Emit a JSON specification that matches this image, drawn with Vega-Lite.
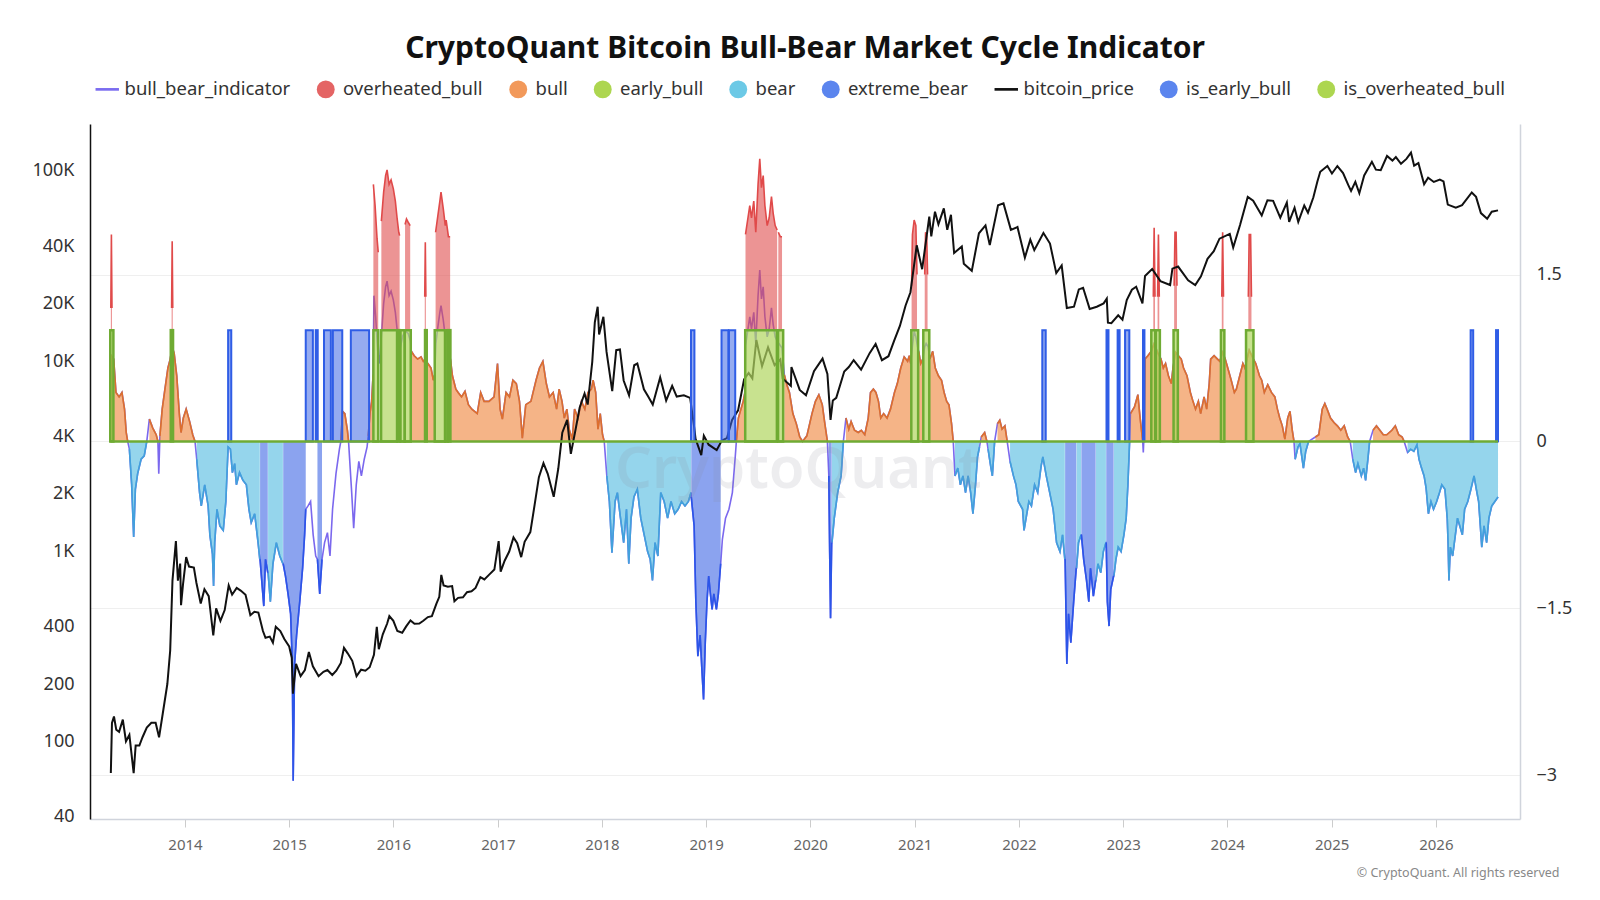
{
  "$schema": "https://vega.github.io/schema/vega-lite/v6.json",
  "width": 1430,
  "height": 695,
  "autosize": {"type": "none"},
  "padding": {"left": 90, "top": 124, "right": 80, "bottom": 81},
  "background": "white",
  "title": {
    "text": "CryptoQuant Bitcoin Bull-Bear Market Cycle Indicator",
    "font": "Noto Sans", "fontSize": 30, "fontWeight": "bold", "color": "#111111",
    "anchor": "middle", "offset": 16
  },
  "config": {"font": "Noto Sans", "view": {"stroke": null}},
  "datasets": {
    "price": [
      {"d":"2013-04-16","p":68},{"d":"2013-04-20","p":125},{"d":"2013-04-27","p":135},{"d":"2013-05-05","p":115},
      {"d":"2013-05-15","p":112},{"d":"2013-05-28","p":130},{"d":"2013-06-08","p":100},{"d":"2013-06-20","p":108},
      {"d":"2013-07-05","p":68},{"d":"2013-07-12","p":95},{"d":"2013-07-25","p":95},{"d":"2013-08-05","p":105},
      {"d":"2013-08-20","p":118},{"d":"2013-09-05","p":125},{"d":"2013-09-20","p":125},{"d":"2013-10-02","p":105},
      {"d":"2013-10-15","p":140},{"d":"2013-10-31","p":200},{"d":"2013-11-10","p":300},{"d":"2013-11-18","p":700},
      {"d":"2013-11-30","p":1130},{"d":"2013-12-07","p":700},{"d":"2013-12-15","p":860},{"d":"2013-12-18","p":520},
      {"d":"2013-12-25","p":670},{"d":"2014-01-05","p":930},{"d":"2014-01-15","p":830},{"d":"2014-02-01","p":820},
      {"d":"2014-02-10","p":680},{"d":"2014-02-25","p":530},{"d":"2014-03-10","p":630},{"d":"2014-03-25","p":580},
      {"d":"2014-04-10","p":360},{"d":"2014-04-20","p":500},{"d":"2014-05-05","p":430},{"d":"2014-05-20","p":490},
      {"d":"2014-06-03","p":660},{"d":"2014-06-15","p":590},{"d":"2014-07-01","p":640},{"d":"2014-07-15","p":620},
      {"d":"2014-08-01","p":590},{"d":"2014-08-18","p":460},{"d":"2014-09-01","p":480},{"d":"2014-09-15","p":475},
      {"d":"2014-10-01","p":380},{"d":"2014-10-10","p":350},{"d":"2014-10-25","p":355},{"d":"2014-11-05","p":330},
      {"d":"2014-11-15","p":400},{"d":"2014-12-01","p":380},{"d":"2014-12-15","p":345},{"d":"2015-01-01","p":315},
      {"d":"2015-01-10","p":275},{"d":"2015-01-14","p":178},{"d":"2015-01-25","p":255},{"d":"2015-02-10","p":220},
      {"d":"2015-02-25","p":237},{"d":"2015-03-11","p":295},{"d":"2015-03-25","p":248},{"d":"2015-04-14","p":220},
      {"d":"2015-05-01","p":232},{"d":"2015-05-15","p":237},{"d":"2015-06-01","p":223},{"d":"2015-06-15","p":235},
      {"d":"2015-07-01","p":258},{"d":"2015-07-12","p":310},{"d":"2015-07-25","p":290},{"d":"2015-08-10","p":265},
      {"d":"2015-08-25","p":220},{"d":"2015-09-10","p":238},{"d":"2015-09-25","p":235},{"d":"2015-10-10","p":245},
      {"d":"2015-10-25","p":285},{"d":"2015-11-04","p":400},{"d":"2015-11-11","p":305},{"d":"2015-11-25","p":365},
      {"d":"2015-12-10","p":415},{"d":"2015-12-18","p":455},{"d":"2016-01-01","p":430},{"d":"2016-01-15","p":380},
      {"d":"2016-02-01","p":372},{"d":"2016-02-15","p":402},{"d":"2016-03-01","p":432},{"d":"2016-03-15","p":415},
      {"d":"2016-04-01","p":416},{"d":"2016-04-15","p":430},{"d":"2016-05-01","p":450},{"d":"2016-05-15","p":455},
      {"d":"2016-05-31","p":530},{"d":"2016-06-10","p":575},{"d":"2016-06-17","p":750},{"d":"2016-06-25","p":660},
      {"d":"2016-07-10","p":650},{"d":"2016-07-25","p":655},{"d":"2016-08-02","p":545},{"d":"2016-08-15","p":568},
      {"d":"2016-09-01","p":572},{"d":"2016-09-15","p":608},{"d":"2016-10-01","p":615},{"d":"2016-10-15","p":640},
      {"d":"2016-11-01","p":730},{"d":"2016-11-15","p":710},{"d":"2016-12-01","p":750},{"d":"2016-12-20","p":800},
      {"d":"2017-01-04","p":1130},{"d":"2017-01-11","p":780},{"d":"2017-01-25","p":890},{"d":"2017-02-10","p":995},
      {"d":"2017-02-25","p":1180},{"d":"2017-03-10","p":1100},{"d":"2017-03-24","p":930},{"d":"2017-04-05","p":1120},
      {"d":"2017-04-25","p":1260},{"d":"2017-05-10","p":1750},{"d":"2017-05-25","p":2450},{"d":"2017-06-10","p":2900},
      {"d":"2017-06-25","p":2550},{"d":"2017-07-16","p":1930},{"d":"2017-08-01","p":2720},{"d":"2017-08-15","p":4200},
      {"d":"2017-09-01","p":4900},{"d":"2017-09-14","p":3250},{"d":"2017-10-01","p":4400},{"d":"2017-10-15","p":5700},
      {"d":"2017-11-01","p":6750},{"d":"2017-11-12","p":5900},{"d":"2017-11-28","p":9900},{"d":"2017-12-07","p":16000},
      {"d":"2017-12-17","p":19300},{"d":"2017-12-22","p":13800},{"d":"2018-01-06","p":17100},{"d":"2018-01-17","p":11200},
      {"d":"2018-02-06","p":6950},{"d":"2018-02-20","p":11400},{"d":"2018-03-05","p":11500},{"d":"2018-03-18","p":7900},
      {"d":"2018-04-06","p":6600},{"d":"2018-04-24","p":9500},{"d":"2018-05-05","p":9700},{"d":"2018-05-28","p":7100},
      {"d":"2018-06-12","p":6500},{"d":"2018-06-28","p":5900},{"d":"2018-07-24","p":8200},{"d":"2018-08-14","p":6200},
      {"d":"2018-09-04","p":7400},{"d":"2018-09-20","p":6500},{"d":"2018-10-15","p":6600},{"d":"2018-11-06","p":6400},
      {"d":"2018-11-20","p":4500},{"d":"2018-11-25","p":3900},{"d":"2018-12-15","p":3200},{"d":"2018-12-24","p":4050},
      {"d":"2019-01-10","p":3630},{"d":"2019-02-07","p":3400},{"d":"2019-02-25","p":3820},{"d":"2019-03-15","p":3930},
      {"d":"2019-04-02","p":4900},{"d":"2019-04-23","p":5500},{"d":"2019-05-14","p":8000},{"d":"2019-05-30","p":8650},
      {"d":"2019-06-12","p":8100},{"d":"2019-06-26","p":12900},{"d":"2019-07-16","p":9400},{"d":"2019-08-06","p":11800},
      {"d":"2019-08-29","p":9500},{"d":"2019-09-18","p":10200},{"d":"2019-09-26","p":8100},{"d":"2019-10-25","p":7400},
      {"d":"2019-10-27","p":9300},{"d":"2019-11-25","p":7050},{"d":"2019-12-17","p":6600},{"d":"2020-01-14","p":8850},
      {"d":"2020-02-13","p":10300},{"d":"2020-03-01","p":8550},{"d":"2020-03-12","p":4900},{"d":"2020-03-20","p":6200},
      {"d":"2020-04-01","p":6400},{"d":"2020-04-29","p":8800},{"d":"2020-05-15","p":9300},{"d":"2020-06-01","p":10100},
      {"d":"2020-06-27","p":9000},{"d":"2020-07-27","p":11000},{"d":"2020-08-17","p":12300},{"d":"2020-09-08","p":10100},
      {"d":"2020-10-01","p":10600},{"d":"2020-10-21","p":12800},{"d":"2020-11-10","p":15300},{"d":"2020-11-30","p":19600},
      {"d":"2020-12-17","p":23000},{"d":"2021-01-08","p":40600},{"d":"2021-01-27","p":30400},{"d":"2021-02-21","p":57500},
      {"d":"2021-02-28","p":45200},{"d":"2021-03-13","p":61000},{"d":"2021-03-25","p":52300},{"d":"2021-04-13","p":63500},
      {"d":"2021-04-25","p":49000},{"d":"2021-05-08","p":58800},{"d":"2021-05-19","p":37000},{"d":"2021-06-15","p":40000},
      {"d":"2021-06-22","p":32500},{"d":"2021-07-20","p":29800},{"d":"2021-08-14","p":47000},{"d":"2021-09-06","p":51700},
      {"d":"2021-09-21","p":40700},{"d":"2021-10-20","p":66000},{"d":"2021-11-08","p":67500},{"d":"2021-12-04","p":49000},
      {"d":"2021-12-27","p":50700},{"d":"2022-01-22","p":35000},{"d":"2022-02-10","p":43500},{"d":"2022-02-24","p":38300},
      {"d":"2022-03-28","p":47100},{"d":"2022-04-20","p":41500},{"d":"2022-05-12","p":29000},{"d":"2022-05-31","p":31800},
      {"d":"2022-06-18","p":19000},{"d":"2022-07-13","p":19300},{"d":"2022-07-30","p":23800},{"d":"2022-08-14","p":24300},
      {"d":"2022-09-06","p":18800},{"d":"2022-10-01","p":19300},{"d":"2022-10-25","p":20100},{"d":"2022-11-05","p":21300},
      {"d":"2022-11-09","p":15900},{"d":"2022-11-21","p":15800},{"d":"2022-12-15","p":17400},{"d":"2022-12-30","p":16500},
      {"d":"2023-01-14","p":20900},{"d":"2023-02-01","p":23700},{"d":"2023-02-16","p":24600},{"d":"2023-03-10","p":20100},
      {"d":"2023-03-19","p":28000},{"d":"2023-04-13","p":30500},{"d":"2023-05-12","p":26300},{"d":"2023-06-15","p":25100},
      {"d":"2023-06-23","p":30600},{"d":"2023-07-13","p":31400},{"d":"2023-08-17","p":26600},{"d":"2023-09-11","p":25100},
      {"d":"2023-10-01","p":27900},{"d":"2023-10-24","p":34500},{"d":"2023-11-15","p":37800},{"d":"2023-12-05","p":44000},
      {"d":"2024-01-10","p":46600},{"d":"2024-01-22","p":39500},{"d":"2024-02-15","p":51900},{"d":"2024-03-13","p":73000},
      {"d":"2024-04-01","p":69700},{"d":"2024-05-01","p":58300},{"d":"2024-05-21","p":70100},{"d":"2024-06-10","p":69600},
      {"d":"2024-07-05","p":56700},{"d":"2024-07-28","p":68200},{"d":"2024-08-05","p":54000},{"d":"2024-08-24","p":64000},
      {"d":"2024-09-06","p":53900},{"d":"2024-09-27","p":65800},{"d":"2024-10-10","p":60300},{"d":"2024-10-29","p":72700},
      {"d":"2024-11-12","p":88000},{"d":"2024-11-22","p":98900},{"d":"2024-12-17","p":106100},{"d":"2025-01-02","p":96900},
      {"d":"2025-01-21","p":106100},{"d":"2025-02-10","p":97400},{"d":"2025-02-28","p":84400},{"d":"2025-03-10","p":78500},
      {"d":"2025-03-25","p":87500},{"d":"2025-04-08","p":76300},{"d":"2025-04-25","p":94700},{"d":"2025-05-22","p":111700},
      {"d":"2025-06-05","p":101500},{"d":"2025-06-22","p":100900},{"d":"2025-07-14","p":119800},{"d":"2025-08-02","p":113300},
      {"d":"2025-08-14","p":118300},{"d":"2025-09-01","p":109000},{"d":"2025-09-20","p":115700},{"d":"2025-10-06","p":124700},
      {"d":"2025-10-17","p":106500},{"d":"2025-11-01","p":110000},{"d":"2025-11-21","p":85000},{"d":"2025-12-05","p":92000},
      {"d":"2025-12-25","p":87500},{"d":"2026-01-15","p":90000},{"d":"2026-01-28","p":88000},{"d":"2026-02-12","p":66500},
      {"d":"2026-03-12","p":64000},{"d":"2026-04-03","p":66000},{"d":"2026-05-07","p":77000},{"d":"2026-05-22","p":73000},
      {"d":"2026-06-08","p":60000},{"d":"2026-06-30","p":56000},{"d":"2026-07-16","p":61000},{"d":"2026-08-07","p":62000}
    ],
    "ind": [
      {"d":"2013-04-14","i":0.10,"s":"bull","g":1},{"d":"2013-04-18","i":0.77,"s":"bull","g":1},{"d":"2013-04-26","i":0.74,"s":"bull","g":1},
      {"d":"2013-05-04","i":0.44,"s":"bull","g":1},{"d":"2013-05-15","i":0.40,"s":"bull","g":1},{"d":"2013-05-25","i":0.44,"s":"bull","g":1},
      {"d":"2013-06-03","i":0.29,"s":"bull","g":1},{"d":"2013-06-09","i":0.08,"s":"bull","g":1},{"d":"2013-06-14","i":0.00,"s":"bull","g":1},
      {"d":"2013-06-20","i":-0.07,"s":"bear","g":2},{"d":"2013-06-28","i":-0.39,"s":"bear","g":2},{"d":"2013-07-05","i":-0.86,"s":"bear","g":2},
      {"d":"2013-07-11","i":-0.43,"s":"bear","g":2},{"d":"2013-07-19","i":-0.29,"s":"bear","g":2},{"d":"2013-07-31","i":-0.16,"s":"bear","g":2},
      {"d":"2013-08-11","i":-0.13,"s":"bear","g":2},{"d":"2013-08-20","i":0.00,"s":"bear","g":2},
      {"d":"2013-08-29","i":0.20,"s":"bull","g":3},{"d":"2013-09-10","i":0.12,"s":"bull","g":3},{"d":"2013-09-22","i":0.06,"s":"bull","g":3},
      {"d":"2013-09-28","i":0.00,"s":"bull","g":3},{"d":"2013-10-01","i":-0.29},
      {"d":"2013-10-05","i":0.05,"s":"bull","g":4},{"d":"2013-10-13","i":0.29,"s":"bull","g":4},{"d":"2013-10-21","i":0.44,"s":"bull","g":4},
      {"d":"2013-11-02","i":0.66,"s":"bull","g":4},{"d":"2013-11-10","i":0.74,"s":"bull","g":4},{"d":"2013-11-17","i":0.85,"s":"bull","g":4},
      {"d":"2013-11-24","i":0.79,"s":"bull","g":4},{"d":"2013-12-03","i":0.59,"s":"bull","g":4},{"d":"2013-12-12","i":0.25,"s":"bull","g":4},
      {"d":"2013-12-18","i":0.08,"s":"bull","g":4},{"d":"2013-12-26","i":0.21,"s":"bull","g":4},{"d":"2014-01-05","i":0.29,"s":"bull","g":4},
      {"d":"2014-01-17","i":0.18,"s":"bull","g":4},{"d":"2014-01-28","i":0.06,"s":"bull","g":4},{"d":"2014-02-05","i":0.00,"s":"bull","g":4},
      {"d":"2014-02-11","i":-0.16,"s":"bear","g":5},{"d":"2014-02-21","i":-0.46,"s":"bear","g":5},{"d":"2014-02-27","i":-0.58,"s":"bear","g":5},
      {"d":"2014-03-11","i":-0.39,"s":"bear","g":5},{"d":"2014-03-23","i":-0.58,"s":"bear","g":5},{"d":"2014-03-29","i":-0.84,"s":"bear","g":5},
      {"d":"2014-04-07","i":-1.01,"s":"bear","g":5},{"d":"2014-04-11","i":-1.30,"s":"bear","g":5},{"d":"2014-04-15","i":-0.91,"s":"bear","g":5},
      {"d":"2014-04-23","i":-0.61,"s":"bear","g":5},{"d":"2014-05-03","i":-0.76,"s":"bear","g":5},{"d":"2014-05-15","i":-0.80,"s":"bear","g":5},
      {"d":"2014-05-24","i":-0.54,"s":"bear","g":5},{"d":"2014-06-01","i":-0.05,"s":"bear","g":5},{"d":"2014-06-09","i":-0.07,"s":"bear","g":5},
      {"d":"2014-06-16","i":-0.28,"s":"bear","g":5},{"d":"2014-06-24","i":-0.20,"s":"bear","g":5},{"d":"2014-06-30","i":-0.39,"s":"bear","g":5},
      {"d":"2014-07-11","i":-0.28,"s":"bear","g":5},{"d":"2014-07-23","i":-0.35,"s":"bear","g":5},{"d":"2014-08-04","i":-0.39,"s":"bear","g":5},
      {"d":"2014-08-13","i":-0.61,"s":"bear","g":5},{"d":"2014-08-21","i":-0.73,"s":"bear","g":5},{"d":"2014-09-02","i":-0.65,"s":"bear","g":5},
      {"d":"2014-09-14","i":-0.91,"s":"bear","g":5},{"d":"2014-09-20","i":-1.06,"s":"bear","g":5},
      {"d":"2014-09-21","i":-1.06,"s":"xbear","g":6},{"d":"2014-09-28","i":-1.29,"s":"xbear","g":6},{"d":"2014-10-04","i":-1.48,"s":"xbear","g":6},
      {"d":"2014-10-10","i":-1.06,"s":"xbear","g":6},{"d":"2014-10-18","i":-1.18,"s":"xbear","g":6},
      {"d":"2014-10-19","i":-1.18,"s":"bear","g":7},{"d":"2014-10-27","i":-1.44,"s":"bear","g":7},{"d":"2014-11-05","i":-1.10,"s":"bear","g":7},
      {"d":"2014-11-17","i":-0.91,"s":"bear","g":7},{"d":"2014-11-29","i":-1.03,"s":"bear","g":7},{"d":"2014-12-10","i":-1.10,"s":"bear","g":7},
      {"d":"2014-12-11","i":-1.10,"s":"xbear","g":8},{"d":"2014-12-19","i":-1.21,"s":"xbear","g":8},{"d":"2014-12-28","i":-1.37,"s":"xbear","g":8},
      {"d":"2015-01-06","i":-1.55,"s":"xbear","g":8},{"d":"2015-01-12","i":-2.00,"s":"xbear","g":8},{"d":"2015-01-15","i":-3.05,"s":"xbear","g":8},
      {"d":"2015-01-20","i":-2.00,"s":"xbear","g":8},{"d":"2015-01-27","i":-1.74,"s":"xbear","g":8},{"d":"2015-02-07","i":-1.44,"s":"xbear","g":8},
      {"d":"2015-02-17","i":-1.14,"s":"xbear","g":8},{"d":"2015-02-24","i":-0.84,"s":"xbear","g":8},{"d":"2015-02-28","i":-0.61,"s":"xbear","g":8},
      {"d":"2015-03-08","i":-0.58},{"d":"2015-03-17","i":-0.54},{"d":"2015-03-26","i":-0.84},{"d":"2015-04-04","i":-1.03},
      {"d":"2015-04-10","i":-1.06,"s":"xbear","g":9},{"d":"2015-04-18","i":-1.37,"s":"xbear","g":9},{"d":"2015-04-26","i":-1.06,"s":"xbear","g":9},
      {"d":"2015-05-05","i":-0.91},{"d":"2015-05-15","i":-0.82},{"d":"2015-05-24","i":-1.03},{"d":"2015-06-02","i":-0.61},
      {"d":"2015-06-14","i":-0.29},{"d":"2015-06-26","i":-0.07},
      {"d":"2015-07-01","i":0.00,"s":"bull","g":10},{"d":"2015-07-07","i":0.27,"s":"bull","g":10},{"d":"2015-07-15","i":0.25,"s":"bull","g":10},
      {"d":"2015-07-24","i":0.10,"s":"bull","g":10},{"d":"2015-07-28","i":0.00,"s":"bull","g":10},
      {"d":"2015-08-08","i":-0.46},{"d":"2015-08-15","i":-0.78},{"d":"2015-08-24","i":-0.39},{"d":"2015-09-02","i":-0.18},
      {"d":"2015-09-11","i":-0.31},{"d":"2015-09-21","i":-0.16},{"d":"2015-10-01","i":-0.05},
      {"d":"2015-10-05","i":0.05,"s":"bull","g":11},{"d":"2015-10-11","i":0.25,"s":"bull","g":11},{"d":"2015-10-17","i":0.36,"s":"bull","g":11},
      {"d":"2015-10-22","i":0.60,"s":"bull","g":11},
      {"d":"2015-10-25","i":1.31},{"d":"2015-10-31","i":1.12},{"d":"2015-11-07","i":0.82},{"d":"2015-11-13","i":0.70},
      {"d":"2015-11-21","i":0.98},{"d":"2015-11-28","i":1.24},{"d":"2015-12-05","i":1.39},{"d":"2015-12-10","i":1.44},
      {"d":"2015-12-17","i":1.31},{"d":"2015-12-24","i":1.35},{"d":"2016-01-01","i":1.27},{"d":"2016-01-08","i":1.16},
      {"d":"2016-01-14","i":1.01},{"d":"2016-01-20","i":0.88},{"d":"2016-01-26","i":0.85},{"d":"2016-02-03","i":0.95},
      {"d":"2016-02-12","i":0.99},{"d":"2016-02-22","i":0.97},{"d":"2016-03-01","i":0.90},
      {"d":"2016-03-04","i":0.81,"s":"bull","g":12},{"d":"2016-03-14","i":0.77,"s":"bull","g":12},{"d":"2016-03-26","i":0.74,"s":"bull","g":12},
      {"d":"2016-04-07","i":0.76,"s":"bull","g":12},{"d":"2016-04-15","i":0.72,"s":"bull","g":12},{"d":"2016-04-22","i":0.74,"s":"bull","g":12},
      {"d":"2016-05-01","i":0.70,"s":"bull","g":12},{"d":"2016-05-12","i":0.66,"s":"bull","g":12},{"d":"2016-05-20","i":0.55,"s":"bull","g":12},
      {"d":"2016-05-25","i":0.60,"s":"bull","g":12},
      {"d":"2016-05-29","i":0.88},{"d":"2016-06-05","i":1.03},{"d":"2016-06-12","i":1.16},{"d":"2016-06-16","i":1.22},
      {"d":"2016-06-24","i":1.09},{"d":"2016-07-01","i":0.94},{"d":"2016-07-04","i":0.99},{"d":"2016-07-12","i":0.84},
      {"d":"2016-07-19","i":0.74,"s":"bull","g":13},{"d":"2016-07-26","i":0.59,"s":"bull","g":13},{"d":"2016-08-07","i":0.47,"s":"bull","g":13},
      {"d":"2016-08-15","i":0.44,"s":"bull","g":13},{"d":"2016-08-27","i":0.40,"s":"bull","g":13},{"d":"2016-09-08","i":0.45,"s":"bull","g":13},
      {"d":"2016-09-20","i":0.33,"s":"bull","g":13},{"d":"2016-10-02","i":0.29,"s":"bull","g":13},{"d":"2016-10-21","i":0.25,"s":"bull","g":13},
      {"d":"2016-11-02","i":0.44,"s":"bull","g":13},{"d":"2016-11-14","i":0.36,"s":"bull","g":13},{"d":"2016-12-01","i":0.36,"s":"bull","g":13},
      {"d":"2016-12-19","i":0.40,"s":"bull","g":13},{"d":"2016-12-31","i":0.70,"s":"bull","g":13},{"d":"2017-01-09","i":0.29,"s":"bull","g":13},
      {"d":"2017-01-17","i":0.20,"s":"bull","g":13},{"d":"2017-01-30","i":0.44,"s":"bull","g":13},{"d":"2017-02-11","i":0.40,"s":"bull","g":13},
      {"d":"2017-02-23","i":0.55,"s":"bull","g":13},{"d":"2017-03-07","i":0.52,"s":"bull","g":13},{"d":"2017-03-18","i":0.36,"s":"bull","g":13},
      {"d":"2017-03-28","i":0.03,"s":"bull","g":13},{"d":"2017-04-09","i":0.33,"s":"bull","g":13},{"d":"2017-04-27","i":0.36,"s":"bull","g":13},
      {"d":"2017-05-15","i":0.55,"s":"bull","g":13},{"d":"2017-05-27","i":0.66,"s":"bull","g":13},{"d":"2017-06-08","i":0.72,"s":"bull","g":13},
      {"d":"2017-06-20","i":0.52,"s":"bull","g":13},{"d":"2017-07-01","i":0.40,"s":"bull","g":13},{"d":"2017-07-14","i":0.44,"s":"bull","g":13},
      {"d":"2017-07-26","i":0.29,"s":"bull","g":13},{"d":"2017-08-04","i":0.47,"s":"bull","g":13},{"d":"2017-08-14","i":0.36,"s":"bull","g":13},
      {"d":"2017-08-22","i":0.21,"s":"bull","g":13},{"d":"2017-08-31","i":0.29,"s":"bull","g":13},{"d":"2017-09-09","i":0.10,"s":"bull","g":13},
      {"d":"2017-09-19","i":0.02,"s":"bull","g":13},{"d":"2017-09-27","i":0.29,"s":"bull","g":13},{"d":"2017-10-09","i":0.21,"s":"bull","g":13},
      {"d":"2017-10-21","i":0.36,"s":"bull","g":13},{"d":"2017-11-02","i":0.29,"s":"bull","g":13},{"d":"2017-11-13","i":0.44,"s":"bull","g":13},
      {"d":"2017-11-25","i":0.47,"s":"bull","g":13},{"d":"2017-12-01","i":0.55,"s":"bull","g":13},{"d":"2017-12-10","i":0.44,"s":"bull","g":13},
      {"d":"2017-12-18","i":0.11,"s":"bull","g":13},{"d":"2017-12-26","i":0.25,"s":"bull","g":13},{"d":"2018-01-03","i":0.06,"s":"bull","g":13},
      {"d":"2018-01-09","i":0.00,"s":"bull","g":13},
      {"d":"2018-01-18","i":-0.31,"s":"bear","g":14},{"d":"2018-01-27","i":-0.54,"s":"bear","g":14},{"d":"2018-02-05","i":-1.00,"s":"bear","g":14},
      {"d":"2018-02-16","i":-0.54,"s":"bear","g":14},{"d":"2018-02-24","i":-0.46,"s":"bear","g":14},{"d":"2018-03-07","i":-0.69,"s":"bear","g":14},
      {"d":"2018-03-18","i":-0.91,"s":"bear","g":14},{"d":"2018-03-28","i":-0.61,"s":"bear","g":14},{"d":"2018-04-05","i":-1.10,"s":"bear","g":14},
      {"d":"2018-04-13","i":-0.69,"s":"bear","g":14},{"d":"2018-04-23","i":-0.50,"s":"bear","g":14},{"d":"2018-05-05","i":-0.43,"s":"bear","g":14},
      {"d":"2018-05-17","i":-0.69,"s":"bear","g":14},{"d":"2018-05-29","i":-0.84,"s":"bear","g":14},{"d":"2018-06-10","i":-0.99,"s":"bear","g":14},
      {"d":"2018-06-19","i":-1.06,"s":"bear","g":14},{"d":"2018-06-27","i":-1.25,"s":"bear","g":14},{"d":"2018-07-06","i":-0.91,"s":"bear","g":14},
      {"d":"2018-07-16","i":-1.03,"s":"bear","g":14},{"d":"2018-07-26","i":-0.46,"s":"bear","g":14},{"d":"2018-08-07","i":-0.54,"s":"bear","g":14},
      {"d":"2018-08-19","i":-0.69,"s":"bear","g":14},{"d":"2018-08-31","i":-0.54,"s":"bear","g":14},{"d":"2018-09-13","i":-0.65,"s":"bear","g":14},
      {"d":"2018-09-25","i":-0.61,"s":"bear","g":14},{"d":"2018-10-07","i":-0.54,"s":"bear","g":14},{"d":"2018-10-19","i":-0.58,"s":"bear","g":14},
      {"d":"2018-10-31","i":-0.54,"s":"bear","g":14},{"d":"2018-11-09","i":-0.46,"s":"bear","g":14},
      {"d":"2018-11-10","i":-0.50,"s":"xbear","g":15},{"d":"2018-11-20","i":-0.76,"s":"xbear","g":15},{"d":"2018-11-26","i":-1.44,"s":"xbear","g":15},
      {"d":"2018-12-03","i":-1.93,"s":"xbear","g":15},{"d":"2018-12-11","i":-1.74,"s":"xbear","g":15},{"d":"2018-12-17","i":-2.04,"s":"xbear","g":15},
      {"d":"2018-12-23","i":-2.32,"s":"xbear","g":15},{"d":"2018-12-29","i":-1.81,"s":"xbear","g":15},{"d":"2019-01-04","i":-1.44,"s":"xbear","g":15},
      {"d":"2019-01-10","i":-1.21,"s":"xbear","g":15},{"d":"2019-01-16","i":-1.37,"s":"xbear","g":15},{"d":"2019-01-22","i":-1.51,"s":"xbear","g":15},
      {"d":"2019-01-28","i":-1.37,"s":"xbear","g":15},{"d":"2019-02-06","i":-1.51,"s":"xbear","g":15},{"d":"2019-02-13","i":-1.37,"s":"xbear","g":15},
      {"d":"2019-02-21","i":-1.10,"s":"xbear","g":15},
      {"d":"2019-02-27","i":-0.88},{"d":"2019-03-10","i":-0.69},{"d":"2019-03-22","i":-0.61},{"d":"2019-04-03","i":-0.46},{"d":"2019-04-13","i":-0.14},
      {"d":"2019-04-17","i":0.00,"s":"bull","g":16},{"d":"2019-04-24","i":0.21,"s":"bull","g":16},{"d":"2019-05-03","i":0.29,"s":"bull","g":16},
      {"d":"2019-05-11","i":0.36,"s":"bull","g":16},{"d":"2019-05-17","i":0.44,"s":"bull","g":16},
      {"d":"2019-05-19","i":0.86},{"d":"2019-06-03","i":1.12},{"d":"2019-06-09","i":1.01},{"d":"2019-06-17","i":1.16},
      {"d":"2019-06-24","i":0.88},{"d":"2019-07-02","i":1.31},{"d":"2019-07-08","i":1.54},{"d":"2019-07-14","i":1.28},
      {"d":"2019-07-20","i":1.39},{"d":"2019-07-26","i":1.12},{"d":"2019-08-03","i":0.94},{"d":"2019-08-10","i":1.01},
      {"d":"2019-08-18","i":1.20},{"d":"2019-08-24","i":1.05},{"d":"2019-08-31","i":0.94},{"d":"2019-09-07","i":0.90},
      {"d":"2019-09-13","i":0.88},{"d":"2019-09-24","i":0.84},
      {"d":"2019-10-02","i":0.60,"s":"bull","g":17},{"d":"2019-10-12","i":0.50,"s":"bull","g":17},{"d":"2019-10-20","i":0.44,"s":"bull","g":17},
      {"d":"2019-11-01","i":0.25,"s":"bull","g":17},{"d":"2019-11-13","i":0.16,"s":"bull","g":17},{"d":"2019-11-25","i":0.04,"s":"bull","g":17},
      {"d":"2019-12-05","i":0.00,"s":"bull","g":17},{"d":"2019-12-20","i":0.05,"s":"bull","g":17},{"d":"2020-01-07","i":0.25,"s":"bull","g":17},
      {"d":"2020-01-19","i":0.36,"s":"bull","g":17},{"d":"2020-01-31","i":0.42,"s":"bull","g":17},{"d":"2020-02-12","i":0.33,"s":"bull","g":17},
      {"d":"2020-02-21","i":0.16,"s":"bull","g":17},{"d":"2020-03-01","i":0.00,"s":"bull","g":17},
      {"d":"2020-03-06","i":-0.31,"s":"xbear","g":18},{"d":"2020-03-09","i":-1.00,"s":"xbear","g":18},{"d":"2020-03-12","i":-1.59,"s":"xbear","g":18},
      {"d":"2020-03-16","i":-0.91,"s":"xbear","g":18},
      {"d":"2020-03-17","i":-0.91,"s":"bear","g":19},{"d":"2020-03-25","i":-0.69,"s":"bear","g":19},{"d":"2020-04-06","i":-0.46,"s":"bear","g":19},
      {"d":"2020-04-18","i":-0.31,"s":"bear","g":19},{"d":"2020-04-26","i":0.00,"s":"bear","g":19},
      {"d":"2020-05-05","i":0.21,"s":"bull","g":20},{"d":"2020-05-15","i":0.11,"s":"bull","g":20},{"d":"2020-05-23","i":0.18,"s":"bull","g":20},
      {"d":"2020-06-04","i":0.10,"s":"bull","g":20},{"d":"2020-06-17","i":0.08,"s":"bull","g":20},{"d":"2020-06-28","i":0.10,"s":"bull","g":20},
      {"d":"2020-07-10","i":0.06,"s":"bull","g":20},{"d":"2020-07-22","i":0.21,"s":"bull","g":20},{"d":"2020-07-30","i":0.44,"s":"bull","g":20},
      {"d":"2020-08-09","i":0.47,"s":"bull","g":20},{"d":"2020-08-18","i":0.44,"s":"bull","g":20},{"d":"2020-08-27","i":0.36,"s":"bull","g":20},
      {"d":"2020-09-04","i":0.21,"s":"bull","g":20},{"d":"2020-09-14","i":0.25,"s":"bull","g":20},{"d":"2020-09-26","i":0.21,"s":"bull","g":20},
      {"d":"2020-10-08","i":0.29,"s":"bull","g":20},{"d":"2020-10-22","i":0.44,"s":"bull","g":20},{"d":"2020-11-01","i":0.52,"s":"bull","g":20},
      {"d":"2020-11-13","i":0.66,"s":"bull","g":20},{"d":"2020-11-25","i":0.76,"s":"bull","g":20},{"d":"2020-12-07","i":0.72,"s":"bull","g":20},
      {"d":"2020-12-13","i":0.77,"s":"bull","g":20},{"d":"2020-12-18","i":0.70,"s":"bull","g":20},
      {"d":"2020-12-24","i":0.86},{"d":"2020-12-30","i":0.99},{"d":"2021-01-05","i":0.94},{"d":"2021-01-11","i":0.85},
      {"d":"2021-01-15","i":0.81,"s":"bull","g":21},{"d":"2021-01-22","i":0.70,"s":"bull","g":21},{"d":"2021-01-29","i":0.74,"s":"bull","g":21},
      {"d":"2021-02-05","i":0.85},{"d":"2021-02-10","i":0.88},{"d":"2021-02-17","i":0.85},
      {"d":"2021-02-23","i":0.74,"s":"bull","g":22},{"d":"2021-03-05","i":0.81,"s":"bull","g":22},{"d":"2021-03-14","i":0.66,"s":"bull","g":22},
      {"d":"2021-03-25","i":0.59,"s":"bull","g":22},{"d":"2021-04-05","i":0.55,"s":"bull","g":22},{"d":"2021-04-14","i":0.44,"s":"bull","g":22},
      {"d":"2021-04-23","i":0.36,"s":"bull","g":22},{"d":"2021-05-01","i":0.33,"s":"bull","g":22},{"d":"2021-05-10","i":0.16,"s":"bull","g":22},
      {"d":"2021-05-16","i":0.00,"s":"bull","g":22},
      {"d":"2021-05-22","i":-0.31,"s":"bear","g":23},{"d":"2021-06-01","i":-0.24,"s":"bear","g":23},{"d":"2021-06-10","i":-0.39,"s":"bear","g":23},
      {"d":"2021-06-19","i":-0.31,"s":"bear","g":23},{"d":"2021-06-28","i":-0.46,"s":"bear","g":23},{"d":"2021-07-07","i":-0.31,"s":"bear","g":23},
      {"d":"2021-07-16","i":-0.46,"s":"bear","g":23},{"d":"2021-07-24","i":-0.65,"s":"bear","g":23},{"d":"2021-08-02","i":-0.39,"s":"bear","g":23},
      {"d":"2021-08-09","i":-0.14,"s":"bear","g":23},{"d":"2021-08-16","i":-0.05,"s":"bear","g":23},
      {"d":"2021-08-22","i":0.04,"s":"bull","g":24},{"d":"2021-09-03","i":0.08,"s":"bull","g":24},{"d":"2021-09-11","i":0.00,"s":"bull","g":24},
      {"d":"2021-09-15","i":-0.07,"s":"bear","g":25},{"d":"2021-09-24","i":-0.22,"s":"bear","g":25},{"d":"2021-09-30","i":-0.31,"s":"bear","g":25},
      {"d":"2021-10-08","i":0.00,"s":"bear","g":25},
      {"d":"2021-10-18","i":0.16,"s":"bull","g":26},{"d":"2021-10-26","i":0.19,"s":"bull","g":26},{"d":"2021-11-03","i":0.11,"s":"bull","g":26},
      {"d":"2021-11-13","i":0.14,"s":"bull","g":26},{"d":"2021-11-21","i":0.00,"s":"bull","g":26},
      {"d":"2021-12-01","i":-0.18,"s":"bear","g":27},{"d":"2021-12-13","i":-0.31,"s":"bear","g":27},{"d":"2021-12-22","i":-0.39,"s":"bear","g":27},
      {"d":"2021-12-30","i":-0.54,"s":"bear","g":27},{"d":"2022-01-14","i":-0.61,"s":"bear","g":27},{"d":"2022-01-19","i":-0.80,"s":"bear","g":27},
      {"d":"2022-02-05","i":-0.54,"s":"bear","g":27},{"d":"2022-02-14","i":-0.58,"s":"bear","g":27},{"d":"2022-02-25","i":-0.39,"s":"bear","g":27},
      {"d":"2022-03-08","i":-0.46,"s":"bear","g":27},{"d":"2022-03-20","i":-0.22,"s":"bear","g":27},{"d":"2022-03-26","i":-0.14,"s":"bear","g":27},
      {"d":"2022-04-07","i":-0.31,"s":"bear","g":27},{"d":"2022-04-19","i":-0.46,"s":"bear","g":27},{"d":"2022-05-01","i":-0.61,"s":"bear","g":27},
      {"d":"2022-05-13","i":-0.91,"s":"bear","g":27},{"d":"2022-05-25","i":-0.99,"s":"bear","g":27},{"d":"2022-06-03","i":-0.84,"s":"bear","g":27},
      {"d":"2022-06-11","i":-1.06,"s":"bear","g":27},
      {"d":"2022-06-12","i":-1.06,"s":"xbear","g":28},{"d":"2022-06-18","i":-2.00,"s":"xbear","g":28},{"d":"2022-06-24","i":-1.55,"s":"xbear","g":28},
      {"d":"2022-07-02","i":-1.81,"s":"xbear","g":28},{"d":"2022-07-12","i":-1.44,"s":"xbear","g":28},{"d":"2022-07-21","i":-1.14,"s":"xbear","g":28},
      {"d":"2022-07-22","i":-1.14,"s":"bear","g":29},{"d":"2022-07-29","i":-0.91,"s":"bear","g":29},{"d":"2022-08-07","i":-0.84,"s":"bear","g":29},
      {"d":"2022-08-08","i":-0.84,"s":"xbear","g":30},{"d":"2022-08-16","i":-1.06,"s":"xbear","g":30},{"d":"2022-08-26","i":-1.25,"s":"xbear","g":30},
      {"d":"2022-09-03","i":-1.44,"s":"xbear","g":30},{"d":"2022-09-09","i":-1.14,"s":"xbear","g":30},{"d":"2022-09-19","i":-1.39,"s":"xbear","g":30},
      {"d":"2022-09-27","i":-1.25,"s":"xbear","g":30},
      {"d":"2022-09-28","i":-1.25,"s":"bear","g":31},{"d":"2022-10-05","i":-1.10,"s":"bear","g":31},{"d":"2022-10-15","i":-1.18,"s":"bear","g":31},
      {"d":"2022-10-24","i":-0.99,"s":"bear","g":31},{"d":"2022-11-02","i":-0.91,"s":"bear","g":31},
      {"d":"2022-11-03","i":-0.91,"s":"xbear","g":32},{"d":"2022-11-07","i":-1.44,"s":"xbear","g":32},{"d":"2022-11-13","i":-1.66,"s":"xbear","g":32},
      {"d":"2022-11-19","i":-1.33,"s":"xbear","g":32},{"d":"2022-11-29","i":-1.21,"s":"xbear","g":32},
      {"d":"2022-11-30","i":-1.21,"s":"bear","g":33},{"d":"2022-12-07","i":-1.06,"s":"bear","g":33},{"d":"2022-12-15","i":-0.95,"s":"bear","g":33},
      {"d":"2022-12-25","i":-0.99,"s":"bear","g":33},{"d":"2023-01-04","i":-0.84,"s":"bear","g":33},{"d":"2023-01-12","i":-0.69,"s":"bear","g":33},
      {"d":"2023-01-18","i":-0.39,"s":"bear","g":33},{"d":"2023-01-24","i":0.00,"s":"bear","g":33},
      {"d":"2023-01-27","i":0.25,"s":"bull","g":34},{"d":"2023-02-10","i":0.31,"s":"bull","g":34},{"d":"2023-02-22","i":0.42,"s":"bull","g":34},
      {"d":"2023-03-01","i":0.23,"s":"bull","g":34},{"d":"2023-03-11","i":0.00,"s":"bull","g":34},{"d":"2023-03-13","i":-0.10},
      {"d":"2023-03-16","i":0.10,"s":"bull","g":35},{"d":"2023-03-19","i":0.74,"s":"bull","g":35},{"d":"2023-03-29","i":0.77,"s":"bull","g":35},
      {"d":"2023-04-10","i":0.81,"s":"bull","g":35},{"d":"2023-04-20","i":0.88,"s":"bull","g":35},{"d":"2023-05-02","i":0.80,"s":"bull","g":35},
      {"d":"2023-05-14","i":0.74,"s":"bull","g":35},{"d":"2023-05-22","i":0.66,"s":"bull","g":35},{"d":"2023-05-30","i":0.70,"s":"bull","g":35},
      {"d":"2023-06-09","i":0.59,"s":"bull","g":35},{"d":"2023-06-19","i":0.52,"s":"bull","g":35},{"d":"2023-06-25","i":0.66,"s":"bull","g":35},
      {"d":"2023-07-04","i":0.80,"s":"bull","g":35},{"d":"2023-07-14","i":0.77,"s":"bull","g":35},{"d":"2023-07-24","i":0.74,"s":"bull","g":35},
      {"d":"2023-08-01","i":0.66,"s":"bull","g":35},{"d":"2023-08-13","i":0.59,"s":"bull","g":35},{"d":"2023-08-25","i":0.44,"s":"bull","g":35},
      {"d":"2023-09-03","i":0.36,"s":"bull","g":35},{"d":"2023-09-12","i":0.29,"s":"bull","g":35},{"d":"2023-09-22","i":0.36,"s":"bull","g":35},
      {"d":"2023-09-30","i":0.25,"s":"bull","g":35},{"d":"2023-10-12","i":0.40,"s":"bull","g":35},{"d":"2023-10-21","i":0.29,"s":"bull","g":35},
      {"d":"2023-10-30","i":0.52,"s":"bull","g":35},{"d":"2023-11-04","i":0.74,"s":"bull","g":35},{"d":"2023-11-16","i":0.77,"s":"bull","g":35},
      {"d":"2023-11-28","i":0.74,"s":"bull","g":35},{"d":"2023-12-06","i":0.72,"s":"bull","g":35},{"d":"2023-12-16","i":0.80,"s":"bull","g":35},
      {"d":"2023-12-25","i":0.74,"s":"bull","g":35},{"d":"2024-01-03","i":0.66,"s":"bull","g":35},{"d":"2024-01-15","i":0.55,"s":"bull","g":35},
      {"d":"2024-01-26","i":0.44,"s":"bull","g":35},{"d":"2024-02-02","i":0.47,"s":"bull","g":35},{"d":"2024-02-14","i":0.59,"s":"bull","g":35},
      {"d":"2024-02-25","i":0.70,"s":"bull","g":35},{"d":"2024-03-03","i":0.66,"s":"bull","g":35},{"d":"2024-03-18","i":0.82,"s":"bull","g":35},
      {"d":"2024-04-02","i":0.74,"s":"bull","g":35},{"d":"2024-04-10","i":0.70,"s":"bull","g":35},{"d":"2024-04-23","i":0.59,"s":"bull","g":35},
      {"d":"2024-05-01","i":0.55,"s":"bull","g":35},{"d":"2024-05-10","i":0.44,"s":"bull","g":35},{"d":"2024-05-22","i":0.51,"s":"bull","g":35},
      {"d":"2024-06-04","i":0.44,"s":"bull","g":35},{"d":"2024-06-16","i":0.40,"s":"bull","g":35},{"d":"2024-06-25","i":0.29,"s":"bull","g":35},
      {"d":"2024-07-03","i":0.21,"s":"bull","g":35},{"d":"2024-07-12","i":0.14,"s":"bull","g":35},{"d":"2024-07-21","i":0.02,"s":"bull","g":35},
      {"d":"2024-07-31","i":0.21,"s":"bull","g":35},{"d":"2024-08-08","i":0.27,"s":"bull","g":35},{"d":"2024-08-16","i":0.10,"s":"bull","g":35},
      {"d":"2024-08-22","i":0.00,"s":"bull","g":35},
      {"d":"2024-08-26","i":-0.16,"s":"bear","g":36},{"d":"2024-09-05","i":-0.05,"s":"bear","g":36},{"d":"2024-09-12","i":-0.02,"s":"bear","g":36},
      {"d":"2024-09-24","i":-0.24,"s":"bear","g":36},{"d":"2024-10-02","i":-0.09,"s":"bear","g":36},{"d":"2024-10-12","i":0.00,"s":"bear","g":36},
      {"d":"2024-11-05","i":0.04,"s":"bull","g":37},{"d":"2024-11-17","i":0.06,"s":"bull","g":37},{"d":"2024-11-29","i":0.29,"s":"bull","g":37},
      {"d":"2024-12-08","i":0.34,"s":"bull","g":37},{"d":"2024-12-16","i":0.29,"s":"bull","g":37},{"d":"2024-12-28","i":0.21,"s":"bull","g":37},
      {"d":"2025-01-09","i":0.17,"s":"bull","g":37},{"d":"2025-01-21","i":0.14,"s":"bull","g":37},{"d":"2025-02-02","i":0.10,"s":"bull","g":37},
      {"d":"2025-02-14","i":0.14,"s":"bull","g":37},{"d":"2025-02-26","i":0.04,"s":"bull","g":37},{"d":"2025-03-07","i":0.00,"s":"bull","g":37},
      {"d":"2025-03-16","i":-0.16,"s":"bear","g":38},{"d":"2025-03-26","i":-0.28,"s":"bear","g":38},{"d":"2025-04-03","i":-0.20,"s":"bear","g":38},
      {"d":"2025-04-15","i":-0.31,"s":"bear","g":38},{"d":"2025-04-23","i":-0.24,"s":"bear","g":38},{"d":"2025-04-30","i":-0.35,"s":"bear","g":38},
      {"d":"2025-05-08","i":-0.16,"s":"bear","g":38},{"d":"2025-05-14","i":0.00,"s":"bear","g":38},
      {"d":"2025-05-26","i":0.10,"s":"bull","g":39},{"d":"2025-06-07","i":0.14,"s":"bull","g":39},{"d":"2025-06-19","i":0.10,"s":"bull","g":39},
      {"d":"2025-07-01","i":0.06,"s":"bull","g":39},{"d":"2025-07-13","i":0.06,"s":"bull","g":39},{"d":"2025-07-31","i":0.10,"s":"bull","g":39},
      {"d":"2025-08-12","i":0.14,"s":"bull","g":39},{"d":"2025-08-24","i":0.06,"s":"bull","g":39},{"d":"2025-09-05","i":0.04,"s":"bull","g":39},
      {"d":"2025-09-12","i":0.00,"s":"bull","g":39},
      {"d":"2025-09-24","i":-0.10,"s":"bear","g":40},{"d":"2025-10-05","i":-0.07,"s":"bear","g":40},{"d":"2025-10-16","i":-0.09,"s":"bear","g":40},
      {"d":"2025-10-27","i":-0.03,"s":"bear","g":40},{"d":"2025-11-03","i":-0.16,"s":"bear","g":40},{"d":"2025-11-12","i":-0.24,"s":"bear","g":40},
      {"d":"2025-11-21","i":-0.31,"s":"bear","g":40},{"d":"2025-11-28","i":-0.42,"s":"bear","g":40},{"d":"2025-12-06","i":-0.65,"s":"bear","g":40},
      {"d":"2025-12-15","i":-0.54,"s":"bear","g":40},{"d":"2025-12-24","i":-0.61,"s":"bear","g":40},{"d":"2026-01-04","i":-0.54,"s":"bear","g":40},
      {"d":"2026-01-14","i":-0.46,"s":"bear","g":40},{"d":"2026-01-22","i":-0.39,"s":"bear","g":40},{"d":"2026-02-02","i":-0.43,"s":"bear","g":40},
      {"d":"2026-02-10","i":-0.69,"s":"bear","g":40},{"d":"2026-02-13","i":-0.91,"s":"bear","g":40},{"d":"2026-02-16","i":-1.25,"s":"bear","g":40},
      {"d":"2026-02-21","i":-0.95,"s":"bear","g":40},{"d":"2026-03-01","i":-1.03,"s":"bear","g":40},{"d":"2026-03-07","i":-0.91,"s":"bear","g":40},
      {"d":"2026-03-18","i":-0.69,"s":"bear","g":40},{"d":"2026-03-26","i":-0.76,"s":"bear","g":40},{"d":"2026-04-04","i":-0.84,"s":"bear","g":40},
      {"d":"2026-04-12","i":-0.61,"s":"bear","g":40},{"d":"2026-04-23","i":-0.54,"s":"bear","g":40},{"d":"2026-05-04","i":-0.43,"s":"bear","g":40},
      {"d":"2026-05-15","i":-0.31,"s":"bear","g":40},{"d":"2026-05-23","i":-0.43,"s":"bear","g":40},{"d":"2026-05-31","i":-0.54,"s":"bear","g":40},
      {"d":"2026-06-06","i":-0.76,"s":"bear","g":40},{"d":"2026-06-11","i":-0.95,"s":"bear","g":40},{"d":"2026-06-19","i":-0.76,"s":"bear","g":40},
      {"d":"2026-06-28","i":-0.91,"s":"bear","g":40},{"d":"2026-07-06","i":-0.69,"s":"bear","g":40},{"d":"2026-07-16","i":-0.58,"s":"bear","g":40},
      {"d":"2026-07-27","i":-0.54,"s":"bear","g":40},{"d":"2026-08-07","i":-0.50,"s":"bear","g":40}
    ],
    "hot": [
      {"d":"2013-04-16","o":1.20,"g":1},{"d":"2013-04-18","o":1.86,"g":1},{"d":"2013-04-20","o":1.20,"g":1},
      {"d":"2013-11-15","o":1.20,"g":2},{"d":"2013-11-17","o":1.80,"g":2},{"d":"2013-11-19","o":1.20,"g":2},
      {"d":"2015-10-23","o":2.31,"g":3},{"d":"2015-10-29","o":2.12,"g":3},{"d":"2015-11-05","o":1.82,"g":3},{"d":"2015-11-09","o":1.70,"g":3},
      {"d":"2015-11-20","o":1.98,"g":4},{"d":"2015-11-28","o":2.24,"g":4},{"d":"2015-12-05","o":2.39,"g":4},{"d":"2015-12-10","o":2.44,"g":4},
      {"d":"2015-12-17","o":2.31,"g":4},{"d":"2015-12-24","o":2.35,"g":4},{"d":"2016-01-01","o":2.27,"g":4},{"d":"2016-01-08","o":2.16,"g":4},
      {"d":"2016-01-14","o":2.01,"g":4},{"d":"2016-01-20","o":1.88,"g":4},{"d":"2016-01-23","o":1.85,"g":4},
      {"d":"2016-02-11","o":1.95,"g":5},{"d":"2016-02-16","o":2.00,"g":5},{"d":"2016-02-22","o":1.97,"g":5},{"d":"2016-02-29","o":1.94,"g":5},
      {"d":"2016-04-20","o":1.30,"g":6},{"d":"2016-04-22","o":1.79,"g":6},{"d":"2016-04-24","o":1.30,"g":6},
      {"d":"2016-05-28","o":1.88,"g":7},{"d":"2016-06-05","o":2.03,"g":7},{"d":"2016-06-12","o":2.16,"g":7},{"d":"2016-06-16","o":2.24,"g":7},
      {"d":"2016-06-24","o":2.09,"g":7},{"d":"2016-07-01","o":1.94,"g":7},{"d":"2016-07-04","o":1.99,"g":7},{"d":"2016-07-12","o":1.84,"g":7},
      {"d":"2016-07-18","o":1.84,"g":7},
      {"d":"2019-05-19","o":1.86,"g":8},{"d":"2019-06-03","o":2.12,"g":8},{"d":"2019-06-09","o":2.01,"g":8},{"d":"2019-06-17","o":2.16,"g":8},
      {"d":"2019-06-24","o":1.88,"g":8},{"d":"2019-07-02","o":2.31,"g":8},{"d":"2019-07-08","o":2.54,"g":8},{"d":"2019-07-14","o":2.28,"g":8},
      {"d":"2019-07-20","o":2.39,"g":8},{"d":"2019-07-26","o":2.12,"g":8},{"d":"2019-08-03","o":1.94,"g":8},{"d":"2019-08-10","o":2.01,"g":8},
      {"d":"2019-08-18","o":2.20,"g":8},{"d":"2019-08-24","o":2.05,"g":8},{"d":"2019-08-31","o":1.94,"g":8},{"d":"2019-09-07","o":1.90,"g":8},
      {"d":"2019-09-11","o":1.88,"g":9},{"d":"2019-09-18","o":1.84,"g":9},{"d":"2019-09-24","o":1.84,"g":9},
      {"d":"2020-12-21","o":1.40,"g":10},{"d":"2020-12-24","o":1.86,"g":10},{"d":"2020-12-30","o":1.99,"g":10},{"d":"2021-01-05","o":1.94,"g":10},
      {"d":"2021-01-09","o":1.50,"g":10},
      {"d":"2021-02-05","o":1.50,"g":11},{"d":"2021-02-08","o":1.88,"g":11},{"d":"2021-02-12","o":1.85,"g":11},{"d":"2021-02-15","o":1.50,"g":11},
      {"d":"2023-04-17","o":1.30,"g":12},{"d":"2023-04-20","o":1.92,"g":12},{"d":"2023-04-23","o":1.30,"g":12},
      {"d":"2023-05-02","o":1.30,"g":13},{"d":"2023-05-05","o":1.86,"g":13},{"d":"2023-05-08","o":1.30,"g":13},
      {"d":"2023-06-29","o":1.40,"g":14},{"d":"2023-07-02","o":1.88,"g":14},{"d":"2023-07-06","o":1.88,"g":14},{"d":"2023-07-09","o":1.40,"g":14},
      {"d":"2023-12-13","o":1.30,"g":15},{"d":"2023-12-16","o":1.88,"g":15},{"d":"2023-12-19","o":1.30,"g":15},
      {"d":"2024-03-15","o":1.30,"g":16},{"d":"2024-03-18","o":1.86,"g":16},{"d":"2024-03-23","o":1.86,"g":16},{"d":"2024-03-26","o":1.30,"g":16}
    ],
    "flags": [
      {"s":"is_early_bull","d":"2014-06-01","e":"2014-06-12"},
      {"s":"is_early_bull","d":"2015-02-28","e":"2015-03-25"},
      {"s":"is_early_bull","d":"2015-04-04","e":"2015-04-11"},
      {"s":"is_early_bull","d":"2015-05-03","e":"2015-05-27"},
      {"s":"is_early_bull","d":"2015-06-03","e":"2015-07-06"},
      {"s":"is_early_bull","d":"2015-08-05","e":"2015-10-08"},
      {"s":"is_early_bull","d":"2018-11-09","e":"2018-11-21"},
      {"s":"is_early_bull","d":"2019-02-24","e":"2019-03-20"},
      {"s":"is_early_bull","d":"2019-03-22","e":"2019-04-13"},
      {"s":"is_early_bull","d":"2022-03-24","e":"2022-04-05"},
      {"s":"is_early_bull","d":"2022-11-04","e":"2022-11-11"},
      {"s":"is_early_bull","d":"2022-12-13","e":"2022-12-20"},
      {"s":"is_early_bull","d":"2023-01-08","e":"2023-01-23"},
      {"s":"is_early_bull","d":"2023-03-12","e":"2023-03-17"},
      {"s":"is_early_bull","d":"2026-05-03","e":"2026-05-12"},
      {"s":"is_early_bull","d":"2026-07-31","e":"2026-08-07"},
      {"s":"is_overheated_bull","d":"2013-04-14","e":"2013-04-25"},
      {"s":"is_overheated_bull","d":"2013-11-12","e":"2013-11-20"},
      {"s":"is_overheated_bull","d":"2015-10-23","e":"2015-11-09"},
      {"s":"is_overheated_bull","d":"2015-11-19","e":"2016-01-14"},
      {"s":"is_overheated_bull","d":"2016-01-15","e":"2016-01-23"},
      {"s":"is_overheated_bull","d":"2016-01-26","e":"2016-02-10"},
      {"s":"is_overheated_bull","d":"2016-02-10","e":"2016-03-02"},
      {"s":"is_overheated_bull","d":"2016-04-21","e":"2016-04-27"},
      {"s":"is_overheated_bull","d":"2016-05-25","e":"2016-06-30"},
      {"s":"is_overheated_bull","d":"2016-07-01","e":"2016-07-10"},
      {"s":"is_overheated_bull","d":"2016-07-11","e":"2016-07-19"},
      {"s":"is_overheated_bull","d":"2019-05-18","e":"2019-09-06"},
      {"s":"is_overheated_bull","d":"2019-09-10","e":"2019-09-28"},
      {"s":"is_overheated_bull","d":"2020-12-20","e":"2021-01-13"},
      {"s":"is_overheated_bull","d":"2021-01-31","e":"2021-02-21"},
      {"s":"is_overheated_bull","d":"2023-04-10","e":"2023-04-24"},
      {"s":"is_overheated_bull","d":"2023-04-26","e":"2023-05-10"},
      {"s":"is_overheated_bull","d":"2023-06-27","e":"2023-07-12"},
      {"s":"is_overheated_bull","d":"2023-12-10","e":"2023-12-22"},
      {"s":"is_overheated_bull","d":"2024-03-07","e":"2024-04-02"}
    ],
    "zero": [{"d":"2013-04-14","z":0},{"d":"2026-08-07","z":0}],
    "mark": [{"d":"2019-11-20","v":-0.27,"t":"CryptoQuant"}],
    "names": [
      {"n":"bull_bear_indicator"},{"n":"overheated_bull"},{"n":"bull"},{"n":"early_bull"},{"n":"bear"},
      {"n":"extreme_bear"},{"n":"bitcoin_price"},{"n":"is_early_bull"},{"n":"is_overheated_bull"}
    ]
  },
  "encoding": {
    "x": {
      "field": "d", "type": "temporal",
      "scale": {"domain": [{"year": 2013, "month": 2, "date": 2}, {"year": 2026, "month": 10, "date": 23}]},
      "title": "© CryptoQuant. All rights reserved",
      "axis": {
        "format": "%Y", "tickCount": {"interval": "year", "step": 1}, "grid": false,
        "labelFontSize": 15, "labelColor": "#666666", "labelPadding": 10,
        "tickColor": "#cccccc", "tickSize": 8, "domainColor": "#d0d4dc", "domainWidth": 1.5,
        "titleFontSize": 12.5, "titleColor": "#888888", "titleFontWeight": "normal",
        "titleAlign": "right", "titleAnchor": "end", "titleX": 1469, "titleY": 53, "titleBaseline": "middle"
      }
    }
  },
  "layer": [
    {
      "layer": [
        {
          "data": {"name": "ind"},
          "mark": {"type": "line", "color": "#7b68ee", "strokeWidth": 1.6},
          "encoding": {
            "y": {
              "field": "i", "type": "quantitative", "title": null,
              "scale": {"domain": [-3.394, 2.853], "zero": false, "nice": false},
              "axis": {
                "orient": "right", "values": [-3, -1.5, 0, 1.5], "format": "~g",
                "labelFontSize": 18, "labelColor": "#333333", "labelPadding": 16, "ticks": false,
                "domainColor": "#d0d4dc", "domainWidth": 1.5, "grid": true, "gridColor": "#efefef"
              }
            }
          }
        },
        {
          "data": {"name": "ind"},
          "transform": [{"filter": "datum.s == 'bear'"}],
          "mark": {"type": "area", "color": "#4eb9df", "fillOpacity": 0.6, "line": {"color": "#42a1dc", "strokeWidth": 1.6}},
          "encoding": {
            "y": {"field": "i", "type": "quantitative", "title": null, "stack": null, "scale": {"domain": [-3.394, 2.853], "zero": false, "nice": false}},
            "detail": {"field": "g", "type": "nominal"}
          }
        },
        {
          "data": {"name": "ind"},
          "transform": [{"filter": "datum.s == 'xbear'"}],
          "mark": {"type": "area", "color": "#3e66e4", "fillOpacity": 0.6, "line": {"color": "#2b55e8", "strokeWidth": 1.6}},
          "encoding": {
            "y": {"field": "i", "type": "quantitative", "title": null, "stack": null, "scale": {"domain": [-3.394, 2.853], "zero": false, "nice": false}},
            "detail": {"field": "g", "type": "nominal"}
          }
        },
        {
          "data": {"name": "ind"},
          "transform": [{"filter": "datum.s == 'bull'"}],
          "mark": {"type": "area", "color": "#ee8237", "fillOpacity": 0.6, "line": {"color": "#dd6f2e", "strokeWidth": 1.6}},
          "encoding": {
            "y": {"field": "i", "type": "quantitative", "title": null, "stack": null, "scale": {"domain": [-3.394, 2.853], "zero": false, "nice": false}},
            "detail": {"field": "g", "type": "nominal"}
          }
        },
        {
          "data": {"name": "hot"},
          "mark": {"type": "area", "color": "#df4d4d", "fillOpacity": 0.6, "line": {"color": "#e04a4a", "strokeWidth": 1.6}},
          "encoding": {
            "y": {"field": "o", "type": "quantitative", "title": null, "stack": null, "scale": {"domain": [-3.394, 2.853], "zero": false, "nice": false}},
            "y2": {"datum": 1},
            "detail": {"field": "g", "type": "nominal"}
          }
        }
      ]
    },
    {
      "data": {"name": "price"},
      "mark": {"type": "line", "color": "#111111", "strokeWidth": 2},
      "encoding": {
        "y": {
          "field": "p", "type": "quantitative", "title": null,
          "scale": {"type": "log", "domain": [39, 176500], "nice": false},
          "axis": {
            "orient": "left", "values": [40, 100, 200, 400, 1000, 2000, 4000, 10000, 20000, 40000, 100000],
            "labelExpr": "datum.value >= 1000 ? (datum.value / 1000) + 'K' : '' + datum.value",
            "labelFontSize": 18, "labelColor": "#333333", "labelPadding": 16, "ticks": false, "grid": false,
            "domainColor": "#111111", "domainWidth": 1.5
          }
        }
      }
    },
    {
      "layer": [
        {
          "data": {"name": "flags"},
          "transform": [{"filter": "datum.s == 'is_early_bull'"}],
          "mark": {"type": "rect", "fill": "#3e66e4", "fillOpacity": 0.55, "stroke": "#2f5de6", "strokeWidth": 2},
          "encoding": {
            "x2": {"field": "e"},
            "y": {"datum": 0, "type": "quantitative", "title": null, "axis": null, "scale": {"domain": [-3.394, 2.853], "zero": false, "nice": false}},
            "y2": {"datum": 1}
          }
        },
        {
          "data": {"name": "flags"},
          "transform": [{"filter": "datum.s == 'is_overheated_bull'"}],
          "mark": {"type": "rect", "fill": "#b0d560", "fillOpacity": 0.7, "stroke": "#6fab33", "strokeWidth": 2.5},
          "encoding": {
            "x2": {"field": "e"},
            "y": {"datum": 0, "type": "quantitative", "title": null, "axis": null, "scale": {"domain": [-3.394, 2.853], "zero": false, "nice": false}},
            "y2": {"datum": 1}
          }
        },
        {
          "data": {"name": "zero"},
          "mark": {"type": "line", "color": "#6fab33", "strokeWidth": 2.5},
          "encoding": {
            "y": {"field": "z", "type": "quantitative", "title": null, "axis": null, "scale": {"domain": [-3.394, 2.853], "zero": false, "nice": false}}
          }
        },
        {
          "data": {"name": "mark"},
          "mark": {"type": "text", "font": "Noto Sans", "fontSize": 58, "fontWeight": 600, "color": "#8a8a9c", "opacity": 0.15},
          "encoding": {
            "y": {"field": "v", "type": "quantitative", "title": null, "axis": null, "scale": {"domain": [-3.394, 2.853], "zero": false, "nice": false}},
            "text": {"field": "t"}
          }
        },
        {
          "data": {"name": "names"},
          "transform": [{"filter": "datum.n == null"}],
          "mark": {"type": "point", "filled": true, "opacity": 1},
          "encoding": {
            "color": {
              "field": "n", "type": "nominal",
              "scale": {
                "domain": ["bull_bear_indicator", "overheated_bull", "bull", "early_bull", "bear", "extreme_bear", "bitcoin_price", "is_early_bull", "is_overheated_bull"],
                "range": ["#7b6cf0", "#e46464", "#f2995a", "#add650", "#6cc9e6", "#5b85ee", "#111111", "#5b85ee", "#add650"]
              },
              "legend": {
                "orient": "none", "legendX": 8, "legendY": -44, "direction": "horizontal", "title": null,
                "labelFontSize": 18.5, "labelColor": "#333333", "labelFont": "Noto Sans", "labelLimit": 300,
                "symbolSize": 320, "symbolStrokeWidth": 0, "symbolOpacity": 1, "columnPadding": 25.5, "labelOffset": 8
              }
            },
            "shape": {
              "field": "n", "type": "nominal",
              "scale": {
                "domain": ["bull_bear_indicator", "overheated_bull", "bull", "early_bull", "bear", "extreme_bear", "bitcoin_price", "is_early_bull", "is_overheated_bull"],
                "range": ["M-1.31,-0.15H1.31V0.15H-1.31Z", "circle", "circle", "circle", "circle", "circle", "M-1.31,-0.15H1.31V0.15H-1.31Z", "circle", "circle"]
              }
            }
          }
        }
      ]
    }
  ],
  "resolve": {"scale": {"y": "independent"}}
}
